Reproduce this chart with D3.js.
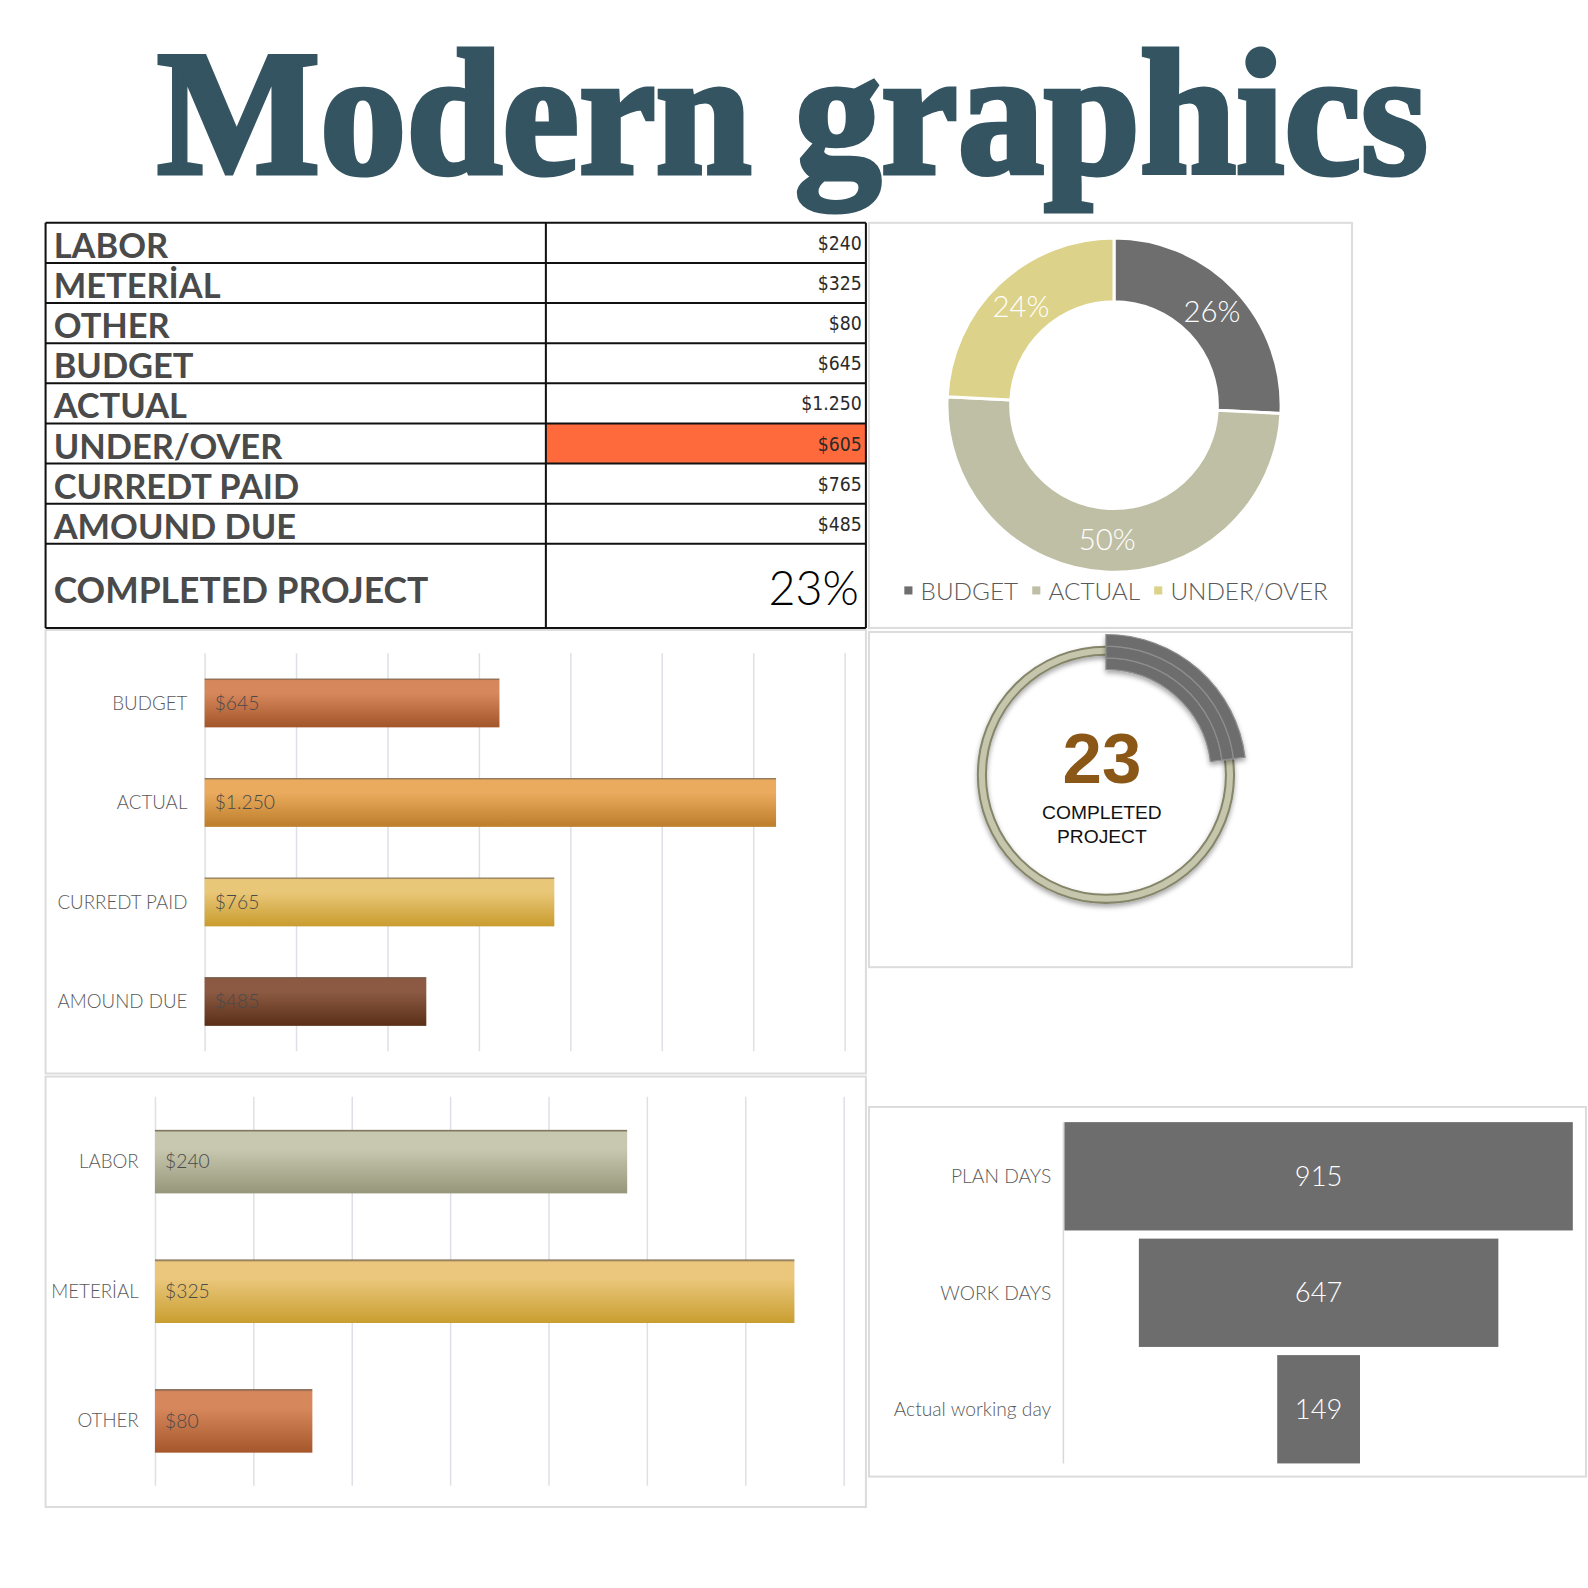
<!DOCTYPE html>
<html>
<head>
<meta charset="utf-8">
<script src="https://cdn.jsdelivr.net/npm/d3@7"></script>
<style>
  body { margin: 0; background: #fff; }
  svg { display: block; }
</style>
</head>
<body>
<div id="chart"></div>
<script>
// ---- data ----
const tableLabels = ["LABOR", "METERİAL", "OTHER", "BUDGET", "ACTUAL", "UNDER/OVER", "CURREDT PAID", "AMOUND DUE"];
const tableValues = [240, 325, 80, 645, 1250, 605, 765, 485];
const completedPct = 23;

const donutLabels = ["BUDGET", "ACTUAL", "UNDER/OVER"];
const donutValues = [645, 1250, 605];

const costLabels = ["BUDGET", "ACTUAL", "CURREDT PAID", "AMOUND DUE"];
const costValues = [645, 1250, 765, 485];
const costTicks = [0, 200, 400, 600, 800, 1000, 1200, 1400];

const partLabels = ["LABOR", "METERİAL", "OTHER"];
const partValues = [240, 325, 80];
const partTicks = [0, 50, 100, 150, 200, 250, 300, 350];

const dayLabels = ["PLAN DAYS", "WORK DAYS", "Actual working day"];
const dayValues = [915, 647, 149];

// colours
const donutColors = ["#6e6e6e", "#bfbfa5", "#ddd289"];
const costColors = [["#d6875c", "#a3552a"], ["#eaab5e", "#bc7e2b"], ["#e9c778", "#c99c2e"], ["#8c5a43", "#5a2f17"]];
const partColors = [["#c8c8b0", "#96967a"], ["#eac77c", "#c99e30"], ["#d6875c", "#a5562b"]];

const thin = "Lato, 'Open Sans', sans-serif";
const loc = d3.formatLocale({ decimal: ",", thousands: ".", grouping: [3], currency: ["$", ""] });
const money = loc.format("$,");

// drawn in the 1568 space of the reference, scaled up to 1588
const svg = d3.select("#chart").append("svg")
  .attr("width", 1588)
  .attr("height", 1588)
  .attr("viewBox", "0 0 1568 1568");

const defs = svg.append("defs");

function barGradient(id, c) {
  const g = defs.append("linearGradient").attr("id", id)
    .attr("x1", 0).attr("y1", 0).attr("x2", 0).attr("y2", 1);
  g.append("stop").attr("offset", "0%").attr("stop-color", "#6b5b48");
  g.append("stop").attr("offset", "4%").attr("stop-color", c[0]);
  g.append("stop").attr("offset", "30%").attr("stop-color", c[0]);
  g.append("stop").attr("offset", "100%").attr("stop-color", c[1]);
}

const shadow = defs.append("filter").attr("id", "ringShadow")
  .attr("x", "-20%").attr("y", "-20%").attr("width", "140%").attr("height", "140%");
shadow.append("feDropShadow").attr("dx", 0).attr("dy", 3).attr("stdDeviation", 2.5)
  .attr("flood-color", "#000").attr("flood-opacity", 0.35);

// ---- title ----
svg.append("text")
  .attr("x", 155)
  .attr("y", 171)
  .attr("textLength", 1255)
  .attr("lengthAdjust", "spacingAndGlyphs")
  .style("font-family", "'Liberation Serif', 'DejaVu Serif', serif")
  .style("font-weight", 700)
  .style("font-size", "176px")
  .attr("fill", "#345461")
  .attr("stroke", "#345461")
  .attr("stroke-width", 5)
  .text("Modern graphics");

// ---- panel frames ----
const frames = [
  [858, 220, 477, 400], [858, 624, 477, 331],
  [45, 622, 810, 438], [45, 1063, 810, 425], [858, 1093, 708, 365]
];
svg.append("g").selectAll("rect").data(frames).join("rect")
  .attr("x", d => d[0]).attr("y", d => d[1])
  .attr("width", d => d[2]).attr("height", d => d[3])
  .attr("fill", "none").attr("stroke", "#dcdcdc").attr("stroke-width", 2);

// ---- table ----
const rowY = d3.scaleBand().domain(tableLabels).range([220, 537]);
const rowH = rowY.bandwidth();
const tbl = svg.append("g");

tbl.append("rect")
  .attr("x", 539).attr("y", rowY("UNDER/OVER"))
  .attr("width", 316).attr("height", rowH)
  .attr("fill", "#ff6a3d");

const hLines = tableLabels.map(d => rowY(d)).concat([537, 620]);
tbl.selectAll("line.h").data(hLines).join("line")
  .attr("x1", 45).attr("x2", 855)
  .attr("y1", d => d).attr("y2", d => d)
  .attr("stroke", "#111").attr("stroke-width", 2);
tbl.selectAll("line.v").data([45, 539, 855]).join("line")
  .attr("x1", d => d).attr("x2", d => d)
  .attr("y1", 220).attr("y2", 620)
  .attr("stroke", "#111").attr("stroke-width", 2);

tbl.selectAll("text.lab").data(tableLabels).join("text")
  .attr("x", 53)
  .attr("y", d => rowY(d) + rowH - 5)
  .style("font-family", thin).style("font-weight", 700).style("font-size", "34px")
  .attr("fill", "#4a4a4a")
  .text(d => d);

tbl.selectAll("text.val").data(tableValues).join("text")
  .attr("x", 851)
  .attr("y", (d, i) => rowY(tableLabels[i]) + rowH / 2 + 7)
  .attr("text-anchor", "end")
  .style("font-family", "'Liberation Sans Narrow', 'DejaVu Sans Condensed', sans-serif")
  .style("font-size", "19px")
  .attr("fill", "#2a2a2a")
  .text(d => money(d));

tbl.append("text")
  .attr("x", 53).attr("y", 595)
  .style("font-family", thin).style("font-weight", 700).style("font-size", "35px")
  .attr("fill", "#4a4a4a")
  .text("COMPLETED PROJECT");
tbl.append("text")
  .attr("x", 848).attr("y", 597)
  .attr("text-anchor", "end")
  .style("font-family", thin).style("font-weight", 300).style("font-size", "46px")
  .attr("fill", "#000")
  .text(completedPct + "%");

// ---- donut ----
const donut = svg.append("g").attr("transform", "translate(1100,400)");
const total = d3.sum(donutValues);
const pie = d3.pie().sort(null).value(d => d)(donutValues);
const arc = d3.arc().innerRadius(102).outerRadius(165);
donut.selectAll("path").data(pie).join("path")
  .attr("d", arc)
  .attr("fill", (d, i) => donutColors[i])
  .attr("stroke", "#fff").attr("stroke-width", 3);
donut.selectAll("text").data(pie).join("text")
  .attr("transform", d => `translate(${arc.centroid(d)})`)
  .attr("text-anchor", "middle")
  .attr("dy", "0.35em")
  .style("font-family", thin).style("font-weight", 300).style("font-size", "29px")
  .attr("fill", "#fff")
  .text(d => d3.format(".0%")(d.value / total));

// legend, laid out by text width and centred on the donut
const legend = svg.append("g");
const items = legend.selectAll("g").data(donutLabels).join("g");
items.append("rect").attr("width", 8).attr("height", 8).attr("y", -13)
  .attr("fill", (d, i) => donutColors[i]);
items.append("text").attr("x", 16)
  .style("font-family", thin).style("font-weight", 300).style("font-size", "24px")
  .attr("fill", "#595959")
  .text(d => d);
let lx = 0;
items.each(function () {
  d3.select(this).attr("transform", `translate(${lx},0)`);
  lx += 16 + this.querySelector("text").getComputedTextLength() + 14;
});
legend.attr("transform", `translate(${1102 - (lx - 14) / 2},592)`);

// ---- completion gauge ----
const gauge = svg.append("g").attr("transform", "translate(1092,765)");
const ring = gauge.append("g").attr("filter", "url(#ringShadow)");
ring.append("circle").attr("r", 122.5).attr("fill", "none")
  .attr("stroke", "#85856a").attr("stroke-width", 10);
ring.append("circle").attr("r", 122.5).attr("fill", "none")
  .attr("stroke", "#c6c6ad").attr("stroke-width", 6);

const done = completedPct / 100 * 2 * Math.PI;
const bands = [[104, 115.5], [115.5, 127], [127, 138.5]];
const gArc = gauge.append("g").attr("filter", "url(#ringShadow)");
gArc.selectAll("path").data(bands).join("path")
  .attr("d", d => d3.arc()({ innerRadius: d[0], outerRadius: d[1], startAngle: 0, endAngle: done }))
  .attr("fill", "#6d6d6d")
  .attr("stroke", "#8e8e8e").attr("stroke-width", 1.2);

gauge.append("text")
  .attr("x", -4).attr("y", 8)
  .attr("text-anchor", "middle")
  .style("font-family", "'Liberation Sans', Arial, sans-serif")
  .style("font-weight", 700).style("font-size", "70px")
  .attr("fill", "#8a5717")
  .text(completedPct);
gauge.selectAll("text.sub").data(["COMPLETED", "PROJECT"]).join("text")
  .attr("x", -4).attr("y", (d, i) => 44 + i * 23)
  .attr("text-anchor", "middle")
  .style("font-family", "'Liberation Sans', Arial, sans-serif")
  .style("font-size", "19px")
  .attr("fill", "#111")
  .text(d => d);

// ---- horizontal bar charts ----
function hbar(id, labels, values, ticks, colors, x0, x1, y0, y1, labelX) {
  const g = svg.append("g");
  const x = d3.scaleLinear().domain([ticks[0], ticks[ticks.length - 1]]).range([x0, x1]);
  const y = d3.scaleBand().domain(labels).range([y0, y1]).paddingInner(0.51).paddingOuter(0.255);

  g.append("g")
    .attr("transform", `translate(0,${y1})`)
    .call(d3.axisBottom(x).tickValues(ticks).tickSize(-(y1 - y0)).tickFormat(""))
    .call(a => a.select(".domain").remove())
    .selectAll("line").attr("stroke", "#dde1e6").attr("stroke-width", 1.5);

  colors.forEach((c, i) => barGradient(`${id}${i}`, c));

  g.selectAll("rect").data(values).join("rect")
    .attr("x", x0)
    .attr("y", (d, i) => y(labels[i]))
    .attr("width", d => x(d) - x0)
    .attr("height", y.bandwidth())
    .attr("fill", (d, i) => `url(#${id}${i})`);

  g.selectAll("text.cat").data(labels).join("text")
    .attr("x", labelX)
    .attr("y", d => y(d) + y.bandwidth() / 2)
    .attr("dy", "0.35em")
    .attr("text-anchor", "end")
    .style("font-family", thin).style("font-weight", 300).style("font-size", "18.5px")
    .attr("fill", "#595959")
    .text(d => d);

  g.selectAll("text.val").data(values).join("text")
    .attr("x", x0 + 10)
    .attr("y", (d, i) => y(labels[i]) + y.bandwidth() / 2)
    .attr("dy", "0.35em")
    .style("font-family", thin).style("font-weight", 300).style("font-size", "19px")
    .attr("fill", "#4a4a4a")
    .text(d => money(d));
}

hbar("cost", costLabels, costValues, costTicks, costColors, 202, 834, 645, 1038, 185);
hbar("part", partLabels, partValues, partTicks, partColors, 153, 833, 1083, 1467, 137);

// ---- funnel ----
const fx = d3.scaleLinear().domain([0, d3.max(dayValues)]).range([0, 502]);
const fy = d3.scaleBand().domain(dayLabels).range([1108, 1445]).paddingInner(0.07);
const fcx = 1302;
const funnel = svg.append("g");

funnel.append("line")
  .attr("x1", 1050).attr("x2", 1050).attr("y1", 1108).attr("y2", 1445)
  .attr("stroke", "#d9d9d9").attr("stroke-width", 1.5);

funnel.selectAll("rect").data(dayValues).join("rect")
  .attr("x", d => fcx - fx(d) / 2)
  .attr("y", (d, i) => fy(dayLabels[i]))
  .attr("width", d => fx(d))
  .attr("height", fy.bandwidth())
  .attr("fill", "#6d6d6d");

funnel.selectAll("text.val").data(dayValues).join("text")
  .attr("x", fcx)
  .attr("y", (d, i) => fy(dayLabels[i]) + fy.bandwidth() / 2)
  .attr("dy", "0.35em")
  .attr("text-anchor", "middle")
  .style("font-family", thin).style("font-weight", 300).style("font-size", "27px")
  .attr("fill", "#fff")
  .text(d => d);

funnel.selectAll("text.cat").data(dayLabels).join("text")
  .attr("x", 1038)
  .attr("y", d => fy(d) + fy.bandwidth() / 2)
  .attr("dy", "0.35em")
  .attr("text-anchor", "end")
  .style("font-family", thin).style("font-weight", 300).style("font-size", "19px")
  .attr("fill", "#595959")
  .text(d => d);
</script>
</body>
</html>
